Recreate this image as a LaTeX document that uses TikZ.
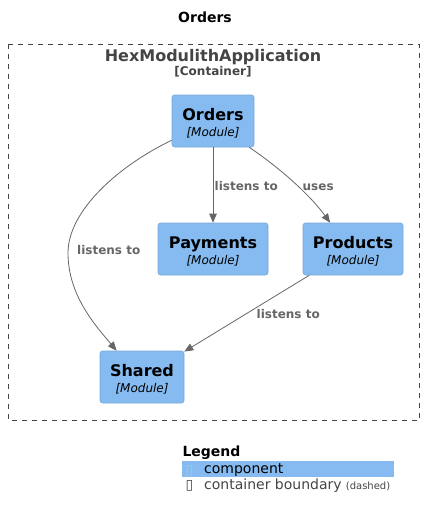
\documentclass[tikz,border=0pt]{standalone}
\usepackage{fontspec}
\setmainfont{DejaVu Sans}
\usetikzlibrary{arrows.meta}
\definecolor{modfill}{HTML}{85BBF0}
\definecolor{modline}{HTML}{78A8D8}
\definecolor{edgecol}{HTML}{666666}
\definecolor{boundcol}{HTML}{444444}
\definecolor{glyphcol}{HTML}{A9C3DD}
\tikzset{
  px/.style={x=1pt,y=-1pt},
  modbox/.style={draw=modline, fill=modfill, line width=0.6pt, rounded corners=2.5pt,
    inner sep=0pt, align=center,
    font=\fontsize{12}{15.5}\selectfont},
  rel/.style={draw=edgecol, line width=0.8pt, -{Triangle[length=9pt,width=7.5pt]}},
  rellabel/.style={text=edgecol, font=\fontsize{12}{14}\selectfont\bfseries, inner sep=0pt, anchor=base west},
  boundary/.style={draw=boundcol, line width=0.8pt, dash pattern=on 5pt off 5pt},
  legtext/.style={inner sep=0pt, anchor=base west}
}
\newcommand{\modtext}[1]{{\rule{0pt}{17pt}\fontsize{16}{16}\selectfont\bfseries #1}\\{\itshape [Module]}}
\begin{document}
\begin{tikzpicture}[px]
\useasboundingbox (0,0) rectangle (424,519);
% title
\node[inner sep=0pt, anchor=base, font=\fontsize{14}{16}\selectfont\bfseries] (title) at (205,23) {Orders};
% container boundary
\draw[boundary] (8,44) rectangle (419.5,420);
\node[inner sep=0pt, anchor=base, text=boundcol, font=\fontsize{16}{18}\selectfont\bfseries] (contname) at (213,61) {HexModulithApplication};
\node[inner sep=0pt, anchor=base, text=boundcol, font=\fontsize{12}{14}\selectfont\bfseries] (conttype) at (213,75) {[Container]};
% modules
\node[modbox, minimum width=82pt, minimum height=52pt] (orders) at (213,121) {\modtext{Orders}};
\node[modbox, minimum width=110pt, minimum height=52pt] (payments) at (213,249) {\modtext{Payments}};
\node[modbox, minimum width=100pt, minimum height=52pt] (products) at (353,249) {\modtext{Products}};
\node[modbox, minimum width=84pt, minimum height=52pt] (shared) at (142,377) {\modtext{Shared}};
% relations
\draw[rel] (orders.south) -- (payments.north);
\node[rellabel] (l1) at (214.5,190) {listens to};
\draw[rel] (orders.-36) .. controls (280,168) and (310,195) .. (products.131);
\node[rellabel] (l2) at (302.5,190) {uses};
\draw[rel] (orders.205) .. controls (120,165) and (68,210) .. (68,253) .. controls (68,295) and (95,325) .. (shared.134);
\node[rellabel] (l3) at (77,254) {listens to};
\draw[rel] (products.211) -- (shared.31);
\node[rellabel] (l4) at (256.5,318) {listens to};
% legend
\node[legtext, font=\fontsize{14}{16}\selectfont\bfseries] (legend) at (182.3,456.7) {Legend};
\fill[modfill] (181.7,460.7) rectangle (394,476.7);
\node[legtext, text=glyphcol, font=\fontsize{14}{16}\selectfont] (g1) at (185.5,474) {▯};
\node[legtext, font=\fontsize{14}{16}\selectfont] (comp) at (204,473.7) {component};
\node[legtext, text=boundcol, font=\fontsize{14}{16}\selectfont] (g2) at (185.5,489.5) {▯};
\node[legtext, text=boundcol, font=\fontsize{14}{16}\selectfont] (cb) at (204,489) {container boundary};
\node[legtext, text=boundcol, font=\fontsize{10}{12}\selectfont] (dashed) at (345.7,489) {(dashed)};
\end{tikzpicture}
\end{document}
